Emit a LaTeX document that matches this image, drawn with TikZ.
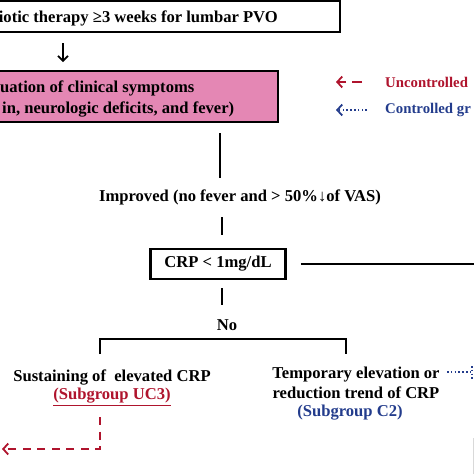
\documentclass[tikz,border=0pt]{standalone}
\usepackage{fontspec}
\setmainfont{Liberation Serif}
\usetikzlibrary{arrows.meta}

\definecolor{ucred}{RGB}{175,20,45}
\definecolor{cblue}{RGB}{35,60,140}
\definecolor{evalpink}{RGB}{228,135,180}

\tikzset{
  box/.style={draw, line width=2.5pt},
  stem/.style={line width=2pt},
  txt/.style={font=\bfseries\fontsize{16.6}{20}\selectfont, inner sep=0pt},
  legtxt/.style={font=\bfseries\fontsize{14.8}{17}\selectfont, inner sep=0pt},
  ucline/.style={ucred, line width=1.8pt, dash pattern=on 8pt off 6.5pt},
  cline/.style={cblue, line width=1.8pt, dash pattern=on 1.6pt off 2.2pt},
  barb/.style={-{Straight Barb[length=5pt,width=11pt]}}
}

\begin{document}
\begin{tikzpicture}[x=1pt, y=-1pt]
  \path[use as bounding box, clip] (0,0) rectangle (474,474);

  % first box and arrow
  \draw[box] (-10,1) rectangle (340,32);
  \node[txt, anchor=base east] (therapy) at (278,22) {iotic therapy ≥3 weeks for lumbar PVO};
  \coordinate (a1) at (63,43);
  \coordinate (a2) at (63,62);
  \draw[line width=1.6pt, -{Straight Barb[length=5pt,width=10pt]}] (a1) -- (a2);

  % evaluation box
  \draw[box, fill=evalpink] (-10,71) rectangle (278,122);
  \node[txt, anchor=base west] (eval1) at (0,92) {uation of clinical symptoms};
  \node[txt, anchor=base west] (eval2) at (2,113) {in, neurologic deficits, and fever)};

  % legend
  \coordinate (lu1) at (362,82);
  \coordinate (lu2) at (336,82);
  \draw[ucline, dash pattern=on 10pt off 6pt, barb] (lu1) -- (lu2);
  \node[legtxt, ucred, anchor=west] (uncon) at (385,82) {Uncontrolled};
  \coordinate (lc1) at (367,110);
  \coordinate (lc2) at (336,110);
  \draw[cline, barb] (lc1) -- (lc2);
  \node[legtxt, cblue, anchor=west] (con) at (385,110) {Controlled gr};

  % improved
  \node[txt] (improved) at (240,197) {Improved (no fever and > 50\%↓of VAS)};
  \coordinate (s1) at (220,133);
  \coordinate (s2) at (220,178);
  \draw[stem] (s1) -- (s2);
  \coordinate (s3) at (222,217);
  \coordinate (s4) at (222,235);
  \draw[stem] (s3) -- (s4);

  % CRP
  \node[txt, box, minimum width=135pt, minimum height=30pt] (crp) at (218,264) {CRP < 1mg/dL};
  \coordinate (r1) at (476,264);
  \draw[stem] ([xshift=14pt]crp.east) -- (r1);
  \coordinate (s5) at (222,288);
  \coordinate (s6) at (222,305);
  \draw[stem] (s5) -- (s6);

  % split
  \node[txt] (no) at (227,325) {No};
  \coordinate (bl) at (100,354);
  \coordinate (br) at (346,354);
  \draw[stem] (bl) -- (100,339) -- (346,339) -- (br);

  \node[txt] (sustain) at (112,377) {Sustaining of \ elevated CRP};
  \node[txt, ucred] (subuc) at (112,397) {\underline{(Subgroup UC3)}};
  \node[txt, align=center] (temp) at (356,383) {Temporary elevation or\\reduction trend of CRP};
  \node[txt, cblue] (subc) at (350,413) {(Subgroup C2)};

  % exits
  \coordinate (u1) at (100,417);
  \coordinate (u2) at (2,449);
  \draw[ucline, barb] (u1) -- (u1 |- u2) -- (u2);
  \coordinate (c1) at (447,372);
  \coordinate (c2) at (472,372);
  \draw[cline] (c1) -- (c2);
  \draw[cline] (472,366) -- (472,379);
  \draw[gray!30, line width=0.8pt] (473,438) -- (473,476);
\end{tikzpicture}
\end{document}
